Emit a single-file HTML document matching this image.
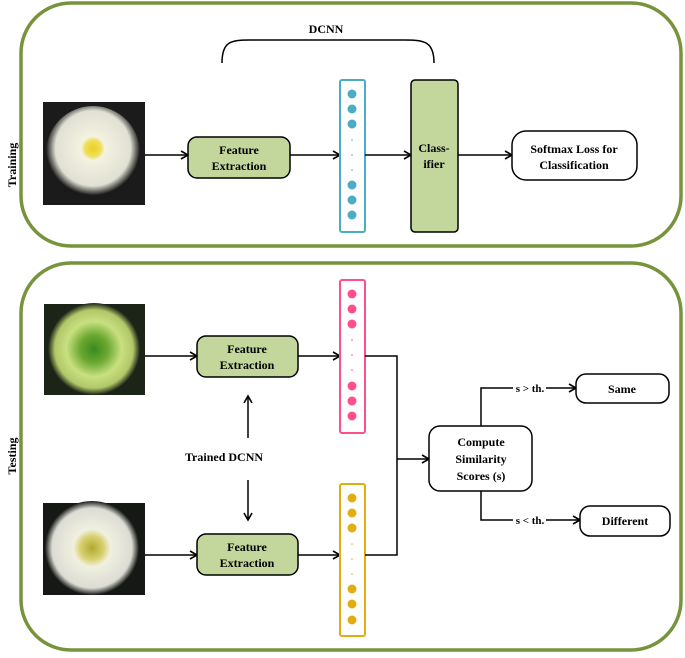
<!DOCTYPE html>
<html><head><style>
body{margin:0;background:#fff}
svg text{font-family:"Liberation Serif",serif;font-weight:bold}
</style></head><body>
<svg width="685" height="653" viewBox="0 0 685 653" xmlns="http://www.w3.org/2000/svg">
<defs>
<marker id="a" markerWidth="10" markerHeight="10" refX="8" refY="5" orient="auto" markerUnits="userSpaceOnUse"><path d="M1,1 L8,5 L1,9" fill="none" stroke="#000" stroke-width="1.6"/></marker>
<radialGradient id="f1" cx="0.5" cy="0.45" r="0.5"><stop offset="0" stop-color="#e8d020"/><stop offset="0.18" stop-color="#f0e060"/><stop offset="0.25" stop-color="#f4f2e0"/><stop offset="0.8" stop-color="#e0e0d4"/><stop offset="1" stop-color="#1a1a1a"/></radialGradient>
<radialGradient id="f2" cx="0.5" cy="0.5" r="0.5"><stop offset="0" stop-color="#3a8a20"/><stop offset="0.3" stop-color="#6aa830"/><stop offset="0.6" stop-color="#c8e080"/><stop offset="0.85" stop-color="#b0c868"/><stop offset="1" stop-color="#1c2418"/></radialGradient>
<radialGradient id="f3" cx="0.5" cy="0.5" r="0.5"><stop offset="0" stop-color="#b0a830"/><stop offset="0.25" stop-color="#d8d070"/><stop offset="0.4" stop-color="#f0f0e0"/><stop offset="0.85" stop-color="#dcdcd4"/><stop offset="1" stop-color="#181c18"/></radialGradient>
</defs>
<rect x="21" y="3" width="660" height="243" rx="50" fill="none" stroke="#77933c" stroke-width="3.5"/>
<rect x="21" y="263" width="660" height="387" rx="50" fill="none" stroke="#77933c" stroke-width="3.5"/>
<text x="16" y="165" font-size="12" transform="rotate(-90 16 165)" text-anchor="middle">Training</text>
<text x="16" y="456" font-size="12" transform="rotate(-90 16 456)" text-anchor="middle">Testing</text>
<!-- training -->
<rect x="43" y="102" width="102" height="103" fill="#1b1b1b"/>
<circle cx="93" cy="153" r="47" fill="url(#f1)"/>
<text x="326" y="33" font-size="12" text-anchor="middle">DCNN</text>
<path d="M222,63 C222,42 230,40 250,40 L405,40 C425,40 434,42 434,63" fill="none" stroke="#000" stroke-width="1.5"/>
<line x1="145" y1="155" x2="188" y2="155" stroke="#000" stroke-width="1.5" marker-end="url(#a)"/>
<rect x="188" y="137" width="102" height="41" rx="9" fill="#c3d69b" stroke="#000" stroke-width="1.5"/>
<text x="239" y="154" font-size="12" text-anchor="middle">Feature</text>
<text x="239" y="170" font-size="12" text-anchor="middle">Extraction</text>
<line x1="290" y1="155" x2="340" y2="155" stroke="#000" stroke-width="1.5" marker-end="url(#a)"/>
<rect x="340" y="80" width="25" height="152" rx="2" fill="#fff" stroke="#4bacc6" stroke-width="2"/>
<g fill="#4bacc6"><circle cx="352" cy="94" r="4.5"/><circle cx="352" cy="109" r="4.5"/><circle cx="352" cy="124" r="4.5"/><circle cx="352" cy="140" r="0.8"/><circle cx="352" cy="155" r="0.8"/><circle cx="352" cy="170" r="0.8"/><circle cx="352" cy="185" r="4.5"/><circle cx="352" cy="200" r="4.5"/><circle cx="352" cy="215" r="4.5"/></g>
<line x1="365" y1="155" x2="411" y2="155" stroke="#000" stroke-width="1.5" marker-end="url(#a)"/>
<rect x="411" y="80" width="47" height="152" rx="4" fill="#c3d69b" stroke="#000" stroke-width="1.5"/>
<text x="434" y="152" font-size="12" text-anchor="middle">Class-</text>
<text x="434" y="168" font-size="12" text-anchor="middle">ifier</text>
<line x1="458" y1="155" x2="512" y2="155" stroke="#000" stroke-width="1.5" marker-end="url(#a)"/>
<rect x="512" y="131" width="125" height="49" rx="14" fill="#fff" stroke="#000" stroke-width="1.5"/>
<text x="574" y="153" font-size="12" text-anchor="middle">Softmax Loss for</text>
<text x="574" y="169" font-size="12" text-anchor="middle">Classification</text>
<!-- testing -->
<rect x="44" y="304" width="101" height="91" fill="#1c2418"/>
<circle cx="94" cy="349" r="46" fill="url(#f2)"/>
<rect x="43" y="503" width="102" height="92" fill="#151815"/>
<circle cx="92" cy="548" r="47" fill="url(#f3)"/>
<line x1="145" y1="356" x2="197" y2="356" stroke="#000" stroke-width="1.5" marker-end="url(#a)"/>
<line x1="145" y1="555" x2="197" y2="555" stroke="#000" stroke-width="1.5" marker-end="url(#a)"/>
<rect x="197" y="336" width="101" height="41" rx="9" fill="#c3d69b" stroke="#000" stroke-width="1.5"/>
<text x="247" y="353" font-size="12" text-anchor="middle">Feature</text>
<text x="247" y="369" font-size="12" text-anchor="middle">Extraction</text>
<rect x="197" y="534" width="101" height="41" rx="9" fill="#c3d69b" stroke="#000" stroke-width="1.5"/>
<text x="247" y="551" font-size="12" text-anchor="middle">Feature</text>
<text x="247" y="567" font-size="12" text-anchor="middle">Extraction</text>
<line x1="248" y1="438" x2="248" y2="396" stroke="#000" stroke-width="1.5" marker-end="url(#a)"/>
<line x1="248" y1="480" x2="248" y2="520" stroke="#000" stroke-width="1.5" marker-end="url(#a)"/>
<text x="224" y="461" font-size="12" text-anchor="middle">Trained DCNN</text>
<line x1="298" y1="356" x2="340" y2="356" stroke="#000" stroke-width="1.5" marker-end="url(#a)"/>
<line x1="298" y1="555" x2="340" y2="555" stroke="#000" stroke-width="1.5" marker-end="url(#a)"/>
<rect x="340" y="280" width="25" height="153" rx="2" fill="#fff" stroke="#ff4f8b" stroke-width="2"/>
<g fill="#ff4f8b"><circle cx="352" cy="294" r="4.5"/><circle cx="352" cy="309" r="4.5"/><circle cx="352" cy="324" r="4.5"/><circle cx="352" cy="340" r="0.8"/><circle cx="352" cy="355" r="0.8"/><circle cx="352" cy="370" r="0.8"/><circle cx="352" cy="386" r="4.5"/><circle cx="352" cy="401" r="4.5"/><circle cx="352" cy="416" r="4.5"/></g>
<rect x="340" y="484" width="25" height="152" rx="2" fill="#fff" stroke="#e2ad11" stroke-width="2"/>
<g fill="#e2ad11"><circle cx="352" cy="498" r="4.5"/><circle cx="352" cy="513" r="4.5"/><circle cx="352" cy="528" r="4.5"/><circle cx="352" cy="544" r="0.8"/><circle cx="352" cy="559" r="0.8"/><circle cx="352" cy="574" r="0.8"/><circle cx="352" cy="589" r="4.5"/><circle cx="352" cy="604" r="4.5"/><circle cx="352" cy="620" r="4.5"/></g>
<polyline points="365,356 397,356 397,555 365,555" fill="none" stroke="#000" stroke-width="1.5"/>
<line x1="397" y1="459" x2="429" y2="459" stroke="#000" stroke-width="1.5" marker-end="url(#a)"/>
<rect x="429" y="426" width="103" height="65" rx="11" fill="#fff" stroke="#000" stroke-width="1.5"/>
<text x="481" y="446" font-size="12" text-anchor="middle">Compute</text>
<text x="481" y="463" font-size="12" text-anchor="middle">Similarity</text>
<text x="481" y="480" font-size="12" text-anchor="middle">Scores (s)</text>
<polyline points="481,426 481,388 513,388" fill="none" stroke="#000" stroke-width="1.5"/>
<line x1="546" y1="388" x2="576" y2="388" stroke="#000" stroke-width="1.5" marker-end="url(#a)"/>
<text x="530" y="392" font-size="11" text-anchor="middle">s &gt; th.</text>
<polyline points="481,491 481,520 513,520" fill="none" stroke="#000" stroke-width="1.5"/>
<line x1="546" y1="520" x2="580" y2="520" stroke="#000" stroke-width="1.5" marker-end="url(#a)"/>
<text x="530" y="524" font-size="11" text-anchor="middle">s &lt; th.</text>
<rect x="576" y="374" width="93" height="29" rx="10" fill="#fff" stroke="#000" stroke-width="1.5"/>
<text x="622" y="393" font-size="12" text-anchor="middle">Same</text>
<rect x="580" y="506" width="90" height="30" rx="10" fill="#fff" stroke="#000" stroke-width="1.5"/>
<text x="625" y="525" font-size="12" text-anchor="middle">Different</text>
</svg>
</body></html>
